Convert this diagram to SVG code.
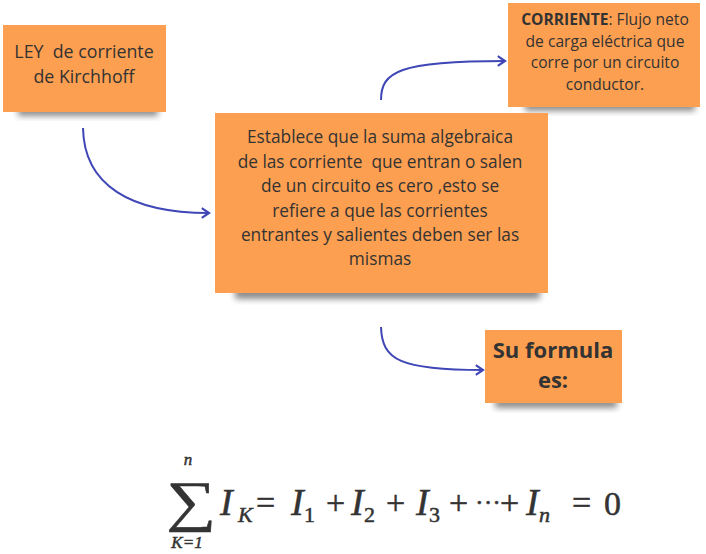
<svg xmlns="http://www.w3.org/2000/svg" width="706" height="554" viewBox="0 0 706 554">
<defs>
<style>
.note{fill:#fd9f50;}
.shadow{fill:#000;opacity:0.45;filter:url(#blur);}
.t{font-family:"Open Sans","Liberation Sans",sans-serif;fill:#333;text-anchor:middle;white-space:pre;}
.conn{fill:none;stroke:#3f46b6;stroke-width:2;}
.m{font-family:"Liberation Serif","DejaVu Serif",serif;fill:#333;stroke:#333;stroke-width:0.5;}
.mi{font-style:italic;}
</style>
<filter id="blur" x="-20%" y="-50%" width="140%" height="200%"><feGaussianBlur stdDeviation="3"/></filter>
<marker id="arr" viewBox="0 0 10 10" refX="8" refY="5" markerWidth="12" markerHeight="12" orient="auto" markerUnits="userSpaceOnUse">
<path d="M2,1 L8,5 L2,9" fill="none" stroke="#3f46b6" stroke-width="1.8"/>
</marker>
</defs>
<rect width="706" height="554" fill="#fff"/>
<g id="connectors">
<path class="conn" d="M83,128 C84,185 130,213 209,213" marker-end="url(#arr)"/>
<path class="conn" d="M381,100 C381,72 398,61 505,61" marker-end="url(#arr)"/>
<path class="conn" d="M381,327 C382,360 400,370 483,370" marker-end="url(#arr)"/>
</g>
<g id="ley">
<rect class="shadow" x="18" y="106" width="140" height="10"/>
<rect class="note" x="3" y="25" width="163" height="87"/>
<text class="t" font-size="17.8" x="84" y="58" xml:space="preserve">LEY  de corriente</text>
<text class="t" font-size="17.8" x="84" y="83">de Kirchhoff</text>
</g>
<g id="corriente">
<rect class="shadow" x="525" y="101" width="170" height="10"/>
<rect class="note" x="508" y="3" width="192" height="104"/>
<text class="t" font-size="15.6" x="605" y="25"><tspan font-weight="bold">CORRIENTE</tspan>: Flujo neto</text>
<text class="t" font-size="15.6" x="605" y="47">de carga eléctrica que</text>
<text class="t" font-size="15.6" x="605" y="68">corre por un circuito</text>
<text class="t" font-size="15.6" x="605" y="90">conductor.</text>
</g>
<g id="ley-def">
<rect class="shadow" x="235" y="287" width="305" height="12"/>
<rect class="note" x="215" y="113" width="333" height="180"/>
<text class="t" font-size="17.3" x="380" y="143">Establece que la suma algebraica</text>
<text class="t" font-size="17.3" x="380" y="168" xml:space="preserve">de las corriente  que entran o salen</text>
<text class="t" font-size="17.3" x="380" y="192">de un circuito es cero ,esto se</text>
<text class="t" font-size="17.3" x="380" y="217">refiere a que las corrientes</text>
<text class="t" font-size="17.3" x="380" y="241">entrantes y salientes deben ser las</text>
<text class="t" font-size="17.3" x="380" y="265">mismas</text>
</g>
<g id="formula-label">
<rect class="shadow" x="495" y="398" width="122" height="10"/>
<rect class="note" x="485" y="330" width="137" height="73"/>
<text class="t" font-size="22" font-weight="bold" x="553" y="358">Su formula</text>
<text class="t" font-size="22" font-weight="bold" x="553" y="388">es:</text>
</g>
<g id="formula">
<text class="m" font-size="56" transform="translate(166,520) scale(1.25,1)">∑</text>
<text class="m mi" font-size="17" x="188" y="465" text-anchor="middle">n</text>
<text class="m mi" font-size="17" x="187" y="548" text-anchor="middle">K=1</text>
<text class="m mi" font-size="38" x="220" y="515">I</text>
<text class="m mi" font-size="22" x="238" y="522">K</text>
<text class="m" font-size="34" x="256" y="514">=</text>
<text class="m mi" font-size="38" x="291" y="515">I</text>
<text class="m" font-size="22" x="304" y="522">1</text>
<text class="m" font-size="34" x="326" y="514">+</text>
<text class="m mi" font-size="38" x="351" y="515">I</text>
<text class="m" font-size="22" x="364" y="522">2</text>
<text class="m" font-size="34" x="386" y="514">+</text>
<text class="m mi" font-size="38" x="416" y="515">I</text>
<text class="m" font-size="22" x="429" y="522">3</text>
<text class="m" font-size="34" x="449" y="514">+</text>
<text class="m" font-size="26" x="475" y="511">···</text>
<text class="m" font-size="34" x="500" y="514">+</text>
<text class="m mi" font-size="38" x="526" y="515">I</text>
<text class="m mi" font-size="22" x="539" y="522">n</text>
<text class="m" font-size="34" x="572" y="514">=</text>
<text class="m" font-size="34" x="604" y="515">0</text>
</g>
</svg>
